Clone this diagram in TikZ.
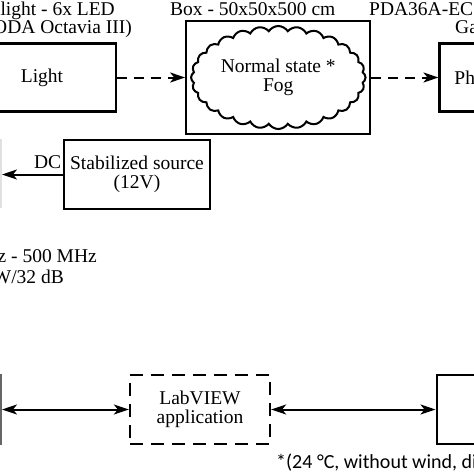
\documentclass[tikz,border=0pt]{standalone}
\usepackage{fontspec}
\setmainfont{Liberation Serif}
\newfontfamily\notefont{Carlito}
\usetikzlibrary{arrows.meta,positioning,shapes.symbols}

\begin{document}
\begin{tikzpicture}[
    x=1pt, y=-1pt,
    font=\fontsize{19.5}{19}\selectfont,
    node distance=68pt,
    % device frames
    block/.style={
        draw, line width=2.3pt, align=center,
        minimum width=148pt, minimum height=68pt, inner sep=2pt},
    softblock/.style={block, dash pattern=on 13pt off 8pt},
    % connectors
    tip/.tip={Stealth[length=15pt,width=10pt,inset=4pt]},
    signal/.style={line width=2pt, -tip},
    beam/.style={signal, dash pattern=on 10pt off 7pt},
    link/.style={line width=2pt, tip-tip},
    caption/.style={align=center, inner sep=0pt}
  ]
  \useasboundingbox (0,0) rectangle (474,474);
  \clip (0,0) rectangle (474,474);

  % optical path
  \node (light) [block] at (42,77.5) {Light};
  \node (box) [block, minimum width=184pt, minimum height=113pt, right=of light] {};
  \node (fog) [cloud, draw, line width=2pt, cloud puffs=28, cloud puff arc=115,
    cloud ignores aspect, minimum width=174pt, minimum height=103pt, align=center]
    at (box.center) {Normal state *\\Fog};
  \node (det) [block, minimum width=138pt, right=67pt of box] {Photodetector};
  \draw [beam] (light.east) -- (light.east -| box.west);
  \draw [beam] (box.east) -- (box.east -| det.west);

  % labels over the path
  \node (light label) [caption, anchor=base east] at (115,15) {Headlight - 6x LED};
  \node (light label2) [caption, anchor=base east] at (132,33) {(ŠKODA Octavia III)};
  \node (box label) [caption, anchor=base west] at (170,15) {Box - 50x50x500 cm};
  \node (det label) [caption, anchor=base west] at (369,15) {PDA36A-EC};
  \node (det label2) [caption, anchor=base west] at (455,33) {Gain};

  % supply
  \node (source) [block, minimum width=146pt, minimum height=69pt] at (137,174.5)
    {Stabilized source\\(12V)};
  \node (gen) [block, draw=black!12, line width=3pt, minimum height=66pt, anchor=east] at (2,173) {};
  \draw [signal] (source.west) -- (source.west -| gen.east)
    node [pos=0.25, above=1pt] {DC};
  \node (gen label) [caption, anchor=base east] at (97,262) {kHz - 500 MHz};
  \node (gen label2) [caption, anchor=base east] at (64,283) {1 W/32 dB};

  % data
  \node (app) [softblock, minimum width=140pt, minimum height=69pt] at (200,409.5)
    {LabVIEW\\application};
  \node (pc) [block, minimum height=69pt, minimum width=150pt, anchor=west] at (435.5,409.5) {};
  \node (meter) [block, draw=black!60, minimum height=69pt, anchor=east] at (2,409.5) {};
  \draw [link] (meter) -- (app);
  \draw [link] (app) -- (pc);

  \node (note) [anchor=base west, inner sep=0pt, font=\notefont\fontsize{20}{20}\selectfont]
    at (276,468) {*(24 °C, without wind, dim light)};
\end{tikzpicture}
\end{document}
